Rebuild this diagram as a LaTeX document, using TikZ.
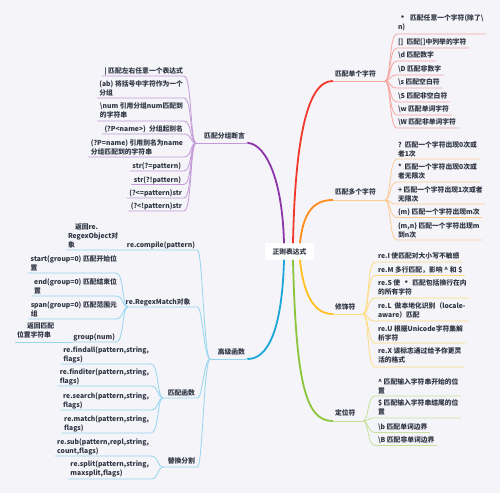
\documentclass[tikz,border=0pt]{standalone}
\usepackage{fontspec}
\setmainfont{Noto Sans CJK SC}
\usetikzlibrary{calc}
\definecolor{bg}{HTML}{F4F4F9}
\definecolor{ink}{HTML}{2F3542}
\definecolor{purM}{HTML}{8B35A8}
\definecolor{purL}{HTML}{C59AD8}
\definecolor{redM}{HTML}{F2382C}
\definecolor{redL}{HTML}{F6A6A0}
\definecolor{oraM}{HTML}{FF8C1A}
\definecolor{oraL}{HTML}{FFCB95}
\definecolor{yelM}{HTML}{FFC020}
\definecolor{yelL}{HTML}{FFDC80}
\definecolor{grnM}{HTML}{8CC43C}
\definecolor{grnL}{HTML}{C6E29A}
\definecolor{bluM}{HTML}{1CA6DA}
\definecolor{bluL}{HTML}{95D5EE}
\newcommand\lf{\fontsize{6.8}{8.8}\selectfont\bfseries}
\newcommand\bigdot{{\fontsize{9}{8.8}\selectfont •}}
% right leaf: #1 style, #2 hub, #3 hub x, #4 name, #5 text x, #6 first line centre y, #7 underline y, #8 text
\newcommand\RLeaf[8]{%
  \node[leaf,anchor=north west] (#4) at ({#5-2.5},{#6-3.6}) {\strut #8};
  \draw[#1] (#2) .. controls +(6,0) and +(-8,0) .. ({#3+12},#7) -- (#4.east |- 0,#7);
}
% left leaf: #5 text right x
\newcommand\LLeaf[8]{%
  \node[leaf,anchor=north east] (#4) at ({#5+2.5},{#6-3.6}) {\strut #8};
  \draw[#1] (#2) .. controls +(-6,0) and +(8,0) .. ({#3-12},#7) -- (#4.west |- 0,#7);
}
\begin{document}
\begin{tikzpicture}[x=1pt,y=-1pt,
  leaf/.style={font=\lf, text=ink, inner xsep=2.5pt, inner ysep=0pt, outer sep=0pt, align=left},
  main/.style={line width=1.8pt, line cap=round},
  lP/.style={draw=purL, line width=0.8pt},
  lR/.style={draw=redL, line width=0.8pt},
  lO/.style={draw=oraL, line width=0.8pt},
  lY/.style={draw=yelL, line width=0.8pt},
  lG/.style={draw=grnL, line width=0.8pt},
  lB/.style={draw=bluL, line width=0.8pt},
]
\useasboundingbox (0,0) rectangle (500,493);
\fill[bg] (0,0) rectangle (500,493);

\node[fill=white, rounded corners=2pt, minimum width=49pt, minimum height=17pt, inner sep=0pt, font=\lf, text=ink] (c) at (289.5,251.5) {正则表达式};

% ---------- topics ----------
\node[leaf,anchor=north west] (t1) at (332.5,70.4) {\strut 匹配单个字符};
\coordinate (hR) at (385,81);
\draw[main,draw=redM] (c.north -| 293,0) .. controls (295,150) and (305,81) .. (t1.west |- hR);
\draw[lR] (t1.west |- hR) -- (hR);

\node[leaf,anchor=north west] (t2) at (332.5,188.4) {\strut 匹配多个字符};
\coordinate (hO) at (385,200);
\draw[main,draw=oraM] (c.north -| 300,0) .. controls (303,215) and (312,200) .. (t2.west |- hO);
\draw[lO] (t2.west |- hO) -- (hO);

\node[leaf,anchor=north west] (t3) at (332.5,303.4) {\strut 修饰符};
\coordinate (hY) at (363,314);
\draw[main,draw=yelM] (c.south -| 300,0) .. controls (303,290) and (312,314) .. (t3.west |- hY);
\draw[lY] (t3.west |- hY) -- (hY);

\node[leaf,anchor=north west] (t4) at (332.5,409.4) {\strut 定位符};
\coordinate (hG) at (363,421);
\draw[main,draw=grnM] (c.south -| 293,0) .. controls (296,380) and (305,421) .. (t4.west |- hG);
\draw[lG] (t4.west |- hG) -- (hG);

\node[leaf,anchor=north east] (t5) at (247.5,132.4) {\strut 匹配分组断言};
\coordinate (hP) at (196,143);
\draw[main,draw=purM] (c.north -| 284,0) .. controls (282,170) and (262,143) .. (t5.east |- hP);
\draw[lP] (t5.east |- hP) -- (hP);

\node[leaf,anchor=north east] (t6) at (247.5,348.4) {\strut 高级函数};
\coordinate (hA) at (210,359);
\draw[main,draw=bluM] (c.south -| 284,0) .. controls (282,330) and (268,359) .. (t6.east |- hA);
\draw[lB] (t6.east |- hA) -- (hA);

% ---------- 匹配单个字符 ----------
\RLeaf{lR}{hR}{385}{r1}{398}{18}{34}{\bigdot\ \ 匹配任意一个字符(除了\textbackslash\\n)}
\RLeaf{lR}{hR}{385}{r2}{398}{42}{48}{[]\ \ 匹配[]中列举的字符}
\RLeaf{lR}{hR}{385}{r3}{398}{55}{61}{\textbackslash d 匹配数字}
\RLeaf{lR}{hR}{385}{r4}{398}{69}{75}{\textbackslash D 匹配非数字}
\RLeaf{lR}{hR}{385}{r5}{398}{82}{88}{\textbackslash s 匹配空白符}
\RLeaf{lR}{hR}{385}{r6}{398}{96}{102}{\textbackslash S 匹配非空白符}
\RLeaf{lR}{hR}{385}{r7}{398}{109}{115}{\textbackslash w 匹配单词字符}
\RLeaf{lR}{hR}{385}{r8}{398}{122}{128}{\textbackslash W 匹配非单词字符}

% ---------- 匹配多个字符 ----------
\RLeaf{lO}{hO}{385}{o1}{398}{145}{159}{?\ \ 匹配一个字符出现0次或\\者1次}
\RLeaf{lO}{hO}{385}{o2}{398}{167}{182}{*\ \ 匹配一个字符出现0次或\\者无限次}
\RLeaf{lO}{hO}{385}{o3}{398}{190}{204}{+ 匹配一个字符出现1次或者\\无限次}
\RLeaf{lO}{hO}{385}{o4}{398}{212}{217.5}{\{m\} 匹配一个字符出现m次}
\RLeaf{lO}{hO}{385}{o5}{398}{226}{240}{\{m,n\} 匹配一个字符出现m\\到n次}

% ---------- 修饰符 ----------
\RLeaf{lY}{hY}{363}{y1}{378}{256}{262}{re.I 使匹配对大小写不敏感}
\RLeaf{lY}{hY}{363}{y2}{378}{270}{275.5}{re.M 多行匹配，影响 \textasciicircum\ 和 \$}
\RLeaf{lY}{hY}{363}{y3}{378}{283}{298}{re.S 使 \bigdot\ 匹配包括换行在内\\的所有字符}
\RLeaf{lY}{hY}{363}{y4}{378}{306}{321}{re.L\ \ 做本地化识别（locale-\\aware）匹配}
\RLeaf{lY}{hY}{363}{y5}{378}{329}{343}{re.U 根据Unicode字符集解\\析字符}
\RLeaf{lY}{hY}{363}{y6}{378}{351}{367}{re.X 该标志通过给予你更灵\\活的格式}

% ---------- 定位符 ----------
\RLeaf{lG}{hG}{363}{g1}{378}{382}{396}{\textasciicircum\ 匹配输入字符串开始的位\\置}
\RLeaf{lG}{hG}{363}{g2}{378}{403}{418}{\$ 匹配输入字符串结尾的位\\置}
\RLeaf{lG}{hG}{363}{g3}{378}{427}{432.5}{\textbackslash b 匹配单词边界}
\RLeaf{lG}{hG}{363}{g4}{378}{440}{445.5}{\textbackslash B 匹配非单词边界}

% ---------- 匹配分组断言 ----------
\LLeaf{lP}{hP}{196}{a1}{183}{71}{76}{| 匹配左右任意一个表达式}
\LLeaf{lP}{hP}{196}{a2}{183}{84}{98}{(ab) 将括号中字符作为一个\\分组}
\LLeaf{lP}{hP}{196}{a3}{183}{106}{121}{\textbackslash num 引用分组num匹配到\\的字符串}
\LLeaf{lP}{hP}{196}{a4}{183}{129}{134}{(?P<name>)\ \ 分组起别名}
\LLeaf{lP}{hP}{196}{a5}{183}{143}{157}{(?P=name) 引用别名为name\\分组匹配到的字符串}
\LLeaf{lP}{hP}{196}{a6}{181}{166}{171}{str(?=pattern)}
\LLeaf{lP}{hP}{196}{a7}{181}{179.5}{184.5}{str(?!pattern)}
\LLeaf{lP}{hP}{196}{a8}{182}{193}{198}{(?<=pattern)str}
\LLeaf{lP}{hP}{196}{a9}{182}{206}{211}{(?<!pattern)str}

% ---------- 高级函数 ----------
\node[leaf,anchor=north east] (s1) at (197.5,241.4) {\strut re.compile(pattern)};
\node[leaf,anchor=north west] (s1a) at (65.5,223.4) {\strut\hspace{7pt}返回re.\\RegexObject对\\象};
\draw[lB] (hA) .. controls +(-6,0) and +(5,0) .. (s1.east |- 0,250) -- (s1a.west |- 0,250);

\node[leaf,anchor=north east] (s2) at (193,298.4) {\strut re.RegexMatch对象};
\coordinate (hM) at (128,307);
\draw[lB] (hA) .. controls +(-6,0) and +(5,0) .. (s1.east |- hM) -- (hM);
\LLeaf{lB}{hM}{128}{m1}{117}{259}{273}{start(group=0) 匹配开始位\\置}
\LLeaf{lB}{hM}{128}{m2}{117}{282}{296}{end(group=0) 匹配结束位\\置}
\LLeaf{lB}{hM}{128}{m3}{117}{305}{319}{span(group=0) 匹配范围元\\组}
\LLeaf{lB}{hM}{128}{m4}{115}{337}{342}{group(num)}
\node[leaf,anchor=north west] (m4a) at (14.5,322.4) {\strut\hspace{10pt}返回匹配\\位置字符串};
\draw[lB] (m4.west |- 0,342) -- (m4a.west |- 0,342);

\node[leaf,anchor=north east] (s3) at (197.5,389.4) {\strut 匹配函数};
\coordinate (hF) at (163,398);
\draw[lB] (hA) .. controls +(-6,0) and +(5,0) .. (s3.east |- hF) -- (hF);
\LLeaf{lB}{hF}{163}{f1}{149}{350}{364}{re.findall(pattern,string,\\flags)}
\LLeaf{lB}{hF}{163}{f2}{149}{372}{386}{re.finditer(pattern,string,\\flags)}
\LLeaf{lB}{hF}{163}{f3}{149}{396}{410}{re.search(pattern,string,\\flags)}
\LLeaf{lB}{hF}{163}{f4}{149}{419}{433}{re.match(pattern,string,\\flags)}

\node[leaf,anchor=north east] (s4) at (197.5,457.4) {\strut 替换分割};
\coordinate (hS) at (163,467);
\draw[lB] (hA) .. controls +(-6,0) and +(5,0) .. (s4.east |- hS) -- (hS);
\LLeaf{lB}{hS}{163}{p1}{149}{442}{456}{re.sub(pattern,repl,string,\\count,flags)}
\LLeaf{lB}{hS}{163}{p2}{149}{464}{479}{re.split(pattern,string,\\maxsplit,flags)}
\end{tikzpicture}
\end{document}
